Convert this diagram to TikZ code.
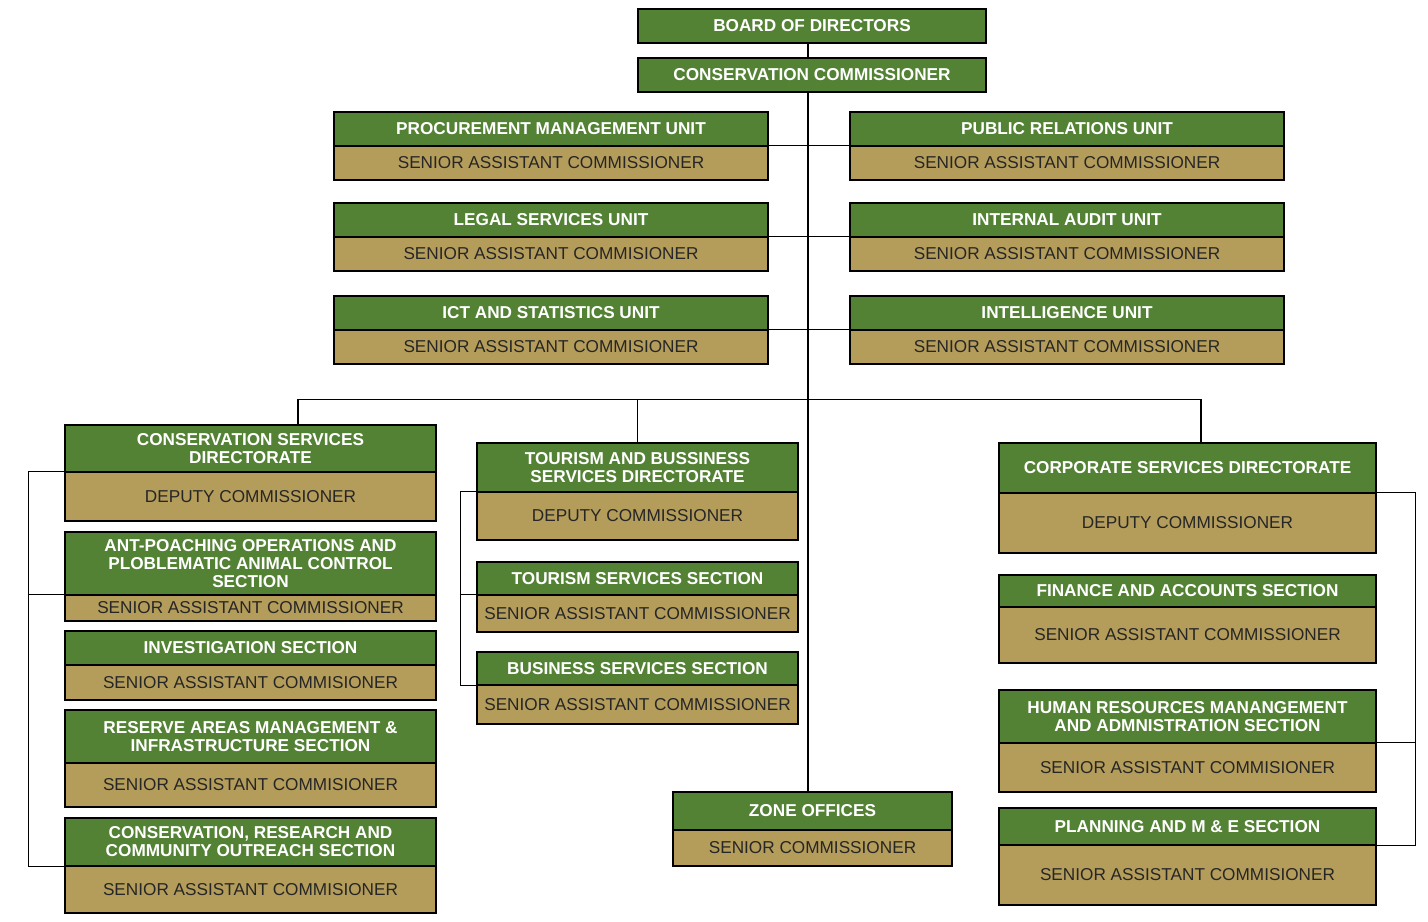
\documentclass[tikz,border=0pt]{standalone}
\usepackage{fontspec}
\setmainfont{Liberation Sans}
\definecolor{unitgreen}{RGB}{84,130,53}
\definecolor{rankgold}{RGB}{180,156,90}
\tikzset{
  titlebox/.style={draw=black, line width=0.6pt, fill=unitgreen, text=white, font=\bfseries\fontsize{8.6}{9}\selectfont, align=center, inner sep=0pt},
  rankbox/.style={draw=black, line width=0.6pt, fill=rankgold, text=black!85, font=\fontsize{8.6}{9}\selectfont, align=center, inner sep=0pt},
  link/.style={draw=black, line width=0.6pt}
}
% name, x1, x2, y1, y2, y3, title, rank
\newcommand\orgunit[8]{%
  \pgfmathsetmacro\ouw{(#3-#2)/2}%
  \pgfmathsetmacro\outh{(#5-#4)/2}%
  \pgfmathsetmacro\ourh{(#6-#5)/2}%
  \node[titlebox, minimum width=\ouw pt, minimum height=\outh pt] (#1-t) at ({(#2+#3)/2},{(#4+#5)/2}) {#7};
  \node[rankbox, minimum width=\ouw pt, minimum height=\ourh pt] (#1-r) at ({(#2+#3)/2},{(#5+#6)/2}) {#8};
}
\begin{document}
\begin{tikzpicture}[x=0.5pt,y=-0.5pt]
\useasboundingbox (0,0) rectangle (1428,921);

% top
\node[titlebox, minimum width=174pt, minimum height=17pt] (board) at (812,26) {BOARD OF DIRECTORS};
\node[titlebox, minimum width=174pt, minimum height=17pt] (comm) at (812,75) {CONSERVATION COMMISSIONER};

% units
\orgunit{proc}{334}{768}{112}{146}{180}{PROCUREMENT MANAGEMENT UNIT}{SENIOR ASSISTANT COMMISSIONER}
\orgunit{pr}{850}{1284}{112}{146}{180}{PUBLIC RELATIONS UNIT}{SENIOR ASSISTANT COMMISSIONER}
\orgunit{legal}{334}{768}{203}{237}{271}{LEGAL SERVICES UNIT}{SENIOR ASSISTANT COMMISIONER}
\orgunit{audit}{850}{1284}{203}{237}{271}{INTERNAL AUDIT UNIT}{SENIOR ASSISTANT COMMISSIONER}
\orgunit{ict}{334}{768}{296}{330}{364}{ICT AND STATISTICS UNIT}{SENIOR ASSISTANT COMMISIONER}
\orgunit{intel}{850}{1284}{296}{330}{364}{INTELLIGENCE UNIT}{SENIOR ASSISTANT COMMISSIONER}

% left column
\orgunit{cons}{65}{436}{425}{472}{521}{CONSERVATION SERVICES\\DIRECTORATE}{DEPUTY COMMISSIONER}
\orgunit{ap}{65}{436}{532}{595}{621}{ANT-POACHING OPERATIONS AND\\PLOBLEMATIC ANIMAL CONTROL\\SECTION}{SENIOR ASSISTANT COMMISSIONER}
\orgunit{inv}{65}{436}{631}{665}{700}{INVESTIGATION SECTION}{SENIOR ASSISTANT COMMISIONER}
\orgunit{res}{65}{436}{710}{763}{807}{RESERVE AREAS MANAGEMENT \&\\INFRASTRUCTURE SECTION}{SENIOR ASSISTANT COMMISIONER}
\orgunit{rco}{65}{436}{818}{866}{913}{CONSERVATION, RESEARCH AND\\COMMUNITY OUTREACH SECTION}{SENIOR ASSISTANT COMMISIONER}

% middle column
\orgunit{tb}{477}{798}{443}{492}{540}{TOURISM AND BUSSINESS\\SERVICES DIRECTORATE}{DEPUTY COMMISSIONER}
\orgunit{ts}{477}{798}{562}{595}{632}{TOURISM SERVICES SECTION}{SENIOR ASSISTANT COMMISSIONER}
\orgunit{bs}{477}{798}{652}{685}{724}{BUSINESS SERVICES SECTION}{SENIOR ASSISTANT COMMISSIONER}
\orgunit{zone}{673}{952}{792}{830}{866}{ZONE OFFICES}{SENIOR COMMISSIONER}

% right column
\orgunit{corp}{999}{1376}{443}{493}{553}{CORPORATE SERVICES DIRECTORATE}{DEPUTY COMMISSIONER}
\orgunit{fin}{999}{1376}{575}{607}{663}{FINANCE AND ACCOUNTS SECTION}{SENIOR ASSISTANT COMMISSIONER}
\orgunit{hr}{999}{1376}{690}{743}{792}{HUMAN RESOURCES MANANGEMENT\\AND ADMNISTRATION SECTION}{SENIOR ASSISTANT COMMISIONER}
\orgunit{plan}{999}{1376}{808}{845}{905}{PLANNING AND M \& E SECTION}{SENIOR ASSISTANT COMMISIONER}

% trunk
\draw[link] ([xshift=-2pt]board.south) -- ([xshift=-2pt]comm.north);
\draw[link] ([xshift=-2pt]comm.south) -- ([xshift=-2pt]comm.south |- zone-t.north);
\draw[link] (proc-r.north east) -- (pr-r.north west);
\draw[link] (legal-r.north east) -- (audit-r.north west);
\draw[link] (ict-r.north east) -- (intel-r.north west);

% bus to directorates
\draw[link] ([xshift=23.75pt]cons-t.north) -- ++(0,-25) -| ([xshift=6.75pt]corp-t.north);
\draw[link] (tb-t.north) -- ++(0,-43);

% brackets
\draw[link] (cons-r.north west) -- ++(-18pt,0) |- (rco-t.south west);
\draw[link] (ap-r.north west) -- ++(-18pt,0);
\draw[link] (tb-r.north west) -- ++(-8pt,0) |- (bs-t.south west);
\draw[link] (ts-r.north west) -- ++(-8pt,0);
\draw[link] (corp-r.north east) -- ++(19.5pt,0) |- (plan-t.south east);
\draw[link] (hr-r.north east) -- ++(19.5pt,0);
\end{tikzpicture}
\end{document}
